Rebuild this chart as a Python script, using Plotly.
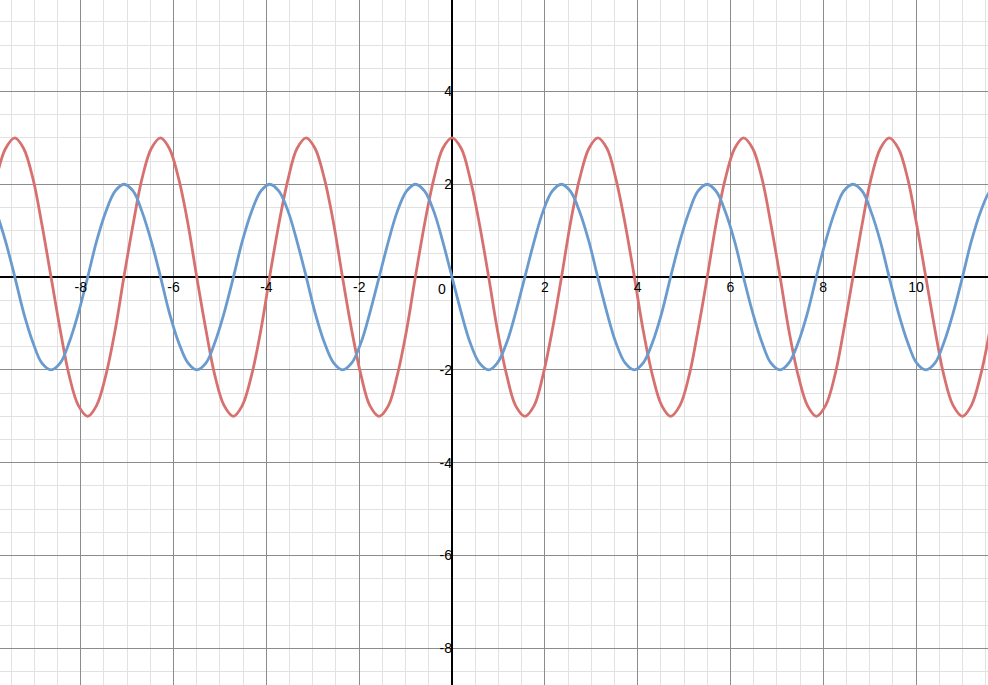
import plotly.graph_objects as go

# sample points (every ~0.2 units along x)
x_pts = [-9.82, -9.62,
         -9.42, -9.23, -9.03, -8.84, -8.64, -8.44, -8.25, -8.05,
         -7.85, -7.66, -7.46, -7.26, -7.07, -6.87, -6.68, -6.48,
         -6.28, -6.09, -5.89, -5.69, -5.50, -5.30, -5.11, -4.91,
         -4.71, -4.52, -4.32, -4.12, -3.93, -3.73, -3.53, -3.34,
         -3.14, -2.95, -2.75, -2.55, -2.36, -2.16, -1.96, -1.77,
         -1.57, -1.37, -1.18, -0.98, -0.79, -0.59, -0.39, -0.20,
         0.00, 0.20, 0.39, 0.59, 0.79, 0.98, 1.18, 1.37,
         1.57, 1.77, 1.96, 2.16, 2.36, 2.55, 2.75, 2.95,
         3.14, 3.34, 3.53, 3.73, 3.93, 4.12, 4.32, 4.52,
         4.71, 4.91, 5.11, 5.30, 5.50, 5.69, 5.89, 6.09,
         6.28, 6.48, 6.68, 6.87, 7.07, 7.26, 7.46, 7.66,
         7.85, 8.05, 8.25, 8.44, 8.64, 8.84, 9.03, 9.23,
         9.42, 9.62, 9.82, 10.01, 10.21, 10.41, 10.60, 10.80,
         11.00, 11.19, 11.39, 11.59, 11.78]

red_y = [2.12, 2.77,
         3, 2.77, 2.12, 1.15, 0, -1.15, -2.12, -2.77, -3, -2.77, -2.12, -1.15, 0, 1.15, 2.12, 2.77,
         3, 2.77, 2.12, 1.15, 0, -1.15, -2.12, -2.77, -3, -2.77, -2.12, -1.15, 0, 1.15, 2.12, 2.77,
         3, 2.77, 2.12, 1.15, 0, -1.15, -2.12, -2.77, -3, -2.77, -2.12, -1.15, 0, 1.15, 2.12, 2.77,
         3, 2.77, 2.12, 1.15, 0, -1.15, -2.12, -2.77, -3, -2.77, -2.12, -1.15, 0, 1.15, 2.12, 2.77,
         3, 2.77, 2.12, 1.15, 0, -1.15, -2.12, -2.77, -3, -2.77, -2.12, -1.15, 0, 1.15, 2.12, 2.77,
         3, 2.77, 2.12, 1.15, 0, -1.15, -2.12, -2.77, -3, -2.77, -2.12, -1.15, 0, 1.15, 2.12, 2.77,
         3, 2.77, 2.12, 1.15, 0, -1.15, -2.12, -2.77, -3, -2.77, -2.12, -1.15, 0]

blue_y = [1.41, 0.77,
          0, -0.77, -1.41, -1.85, -2, -1.85, -1.41, -0.77, 0, 0.77, 1.41, 1.85, 2, 1.85, 1.41, 0.77,
          0, -0.77, -1.41, -1.85, -2, -1.85, -1.41, -0.77, 0, 0.77, 1.41, 1.85, 2, 1.85, 1.41, 0.77,
          0, -0.77, -1.41, -1.85, -2, -1.85, -1.41, -0.77, 0, 0.77, 1.41, 1.85, 2, 1.85, 1.41, 0.77,
          0, -0.77, -1.41, -1.85, -2, -1.85, -1.41, -0.77, 0, 0.77, 1.41, 1.85, 2, 1.85, 1.41, 0.77,
          0, -0.77, -1.41, -1.85, -2, -1.85, -1.41, -0.77, 0, 0.77, 1.41, 1.85, 2, 1.85, 1.41, 0.77,
          0, -0.77, -1.41, -1.85, -2, -1.85, -1.41, -0.77, 0, 0.77, 1.41, 1.85, 2, 1.85, 1.41, 0.77,
          0, -0.77, -1.41, -1.85, -2, -1.85, -1.41, -0.77, 0, 0.77, 1.41, 1.85, 2]

x_range = [-9.74, 11.55]
y_range = [-8.79, 5.97]
x_ticks = [-8, -6, -4, -2, 2, 4, 6, 8, 10]
x_labels = ["-8", "-6", "-4", "-2", "2", "4", "6", "8", "10"]
y_ticks = [-8, -6, -4, -2, 2, 4]
y_labels = ["-8", "-6", "-4", "-2", "2", "4"]

RED = "#d7716f"
BLUE = "#6a9bcf"

fig = go.Figure()
fig.add_trace(go.Scatter(x=x_pts, y=red_y, mode="lines",
                         line=dict(color=RED, width=2.8, shape="spline",
                                   smoothing=1.0, simplify=False),
                         hoverinfo="skip"))
fig.add_trace(go.Scatter(x=x_pts, y=blue_y, mode="lines",
                         line=dict(color=BLUE, width=2.8, shape="spline",
                                   smoothing=1.0, simplify=False),
                         hoverinfo="skip"))

axis_font = dict(family="Liberation Sans, Arial, sans-serif", size=14, color="#000000")

fig.update_xaxes(
    range=x_range, tickvals=x_ticks, ticktext=x_labels, tickfont=axis_font,
    showgrid=True, gridcolor="#8c8c8c", gridwidth=1,
    minor=dict(dtick=0.5, tick0=0, showgrid=True, gridcolor="#e2e2e2", gridwidth=1),
    zeroline=True, zerolinecolor="#000000", zerolinewidth=2,
    showline=False, ticks="",
    anchor="free", position=(0 - y_range[0]) / (y_range[1] - y_range[0]),
    fixedrange=True,
)
fig.update_yaxes(
    range=y_range, tickvals=y_ticks, ticktext=y_labels, tickfont=axis_font,
    showgrid=True, gridcolor="#8c8c8c", gridwidth=1,
    minor=dict(dtick=0.5, tick0=0, showgrid=True, gridcolor="#e2e2e2", gridwidth=1),
    zeroline=True, zerolinecolor="#000000", zerolinewidth=2,
    showline=False, ticks="",
    anchor="free", position=(0 - x_range[0]) / (x_range[1] - x_range[0]),
    fixedrange=True,
)

fig.add_annotation(x=0, y=0, text="0", showarrow=False, font=axis_font,
                   xanchor="right", yanchor="top", xshift=-4, yshift=-2)

fig.update_layout(
    width=988, height=685,
    margin=dict(l=0, r=0, t=0, b=0),
    plot_bgcolor="white", paper_bgcolor="white",
    showlegend=False,
)

fig.write_html("out.html", config={"displayModeBar": False},
               post_script="document.body.style.margin='0';")
